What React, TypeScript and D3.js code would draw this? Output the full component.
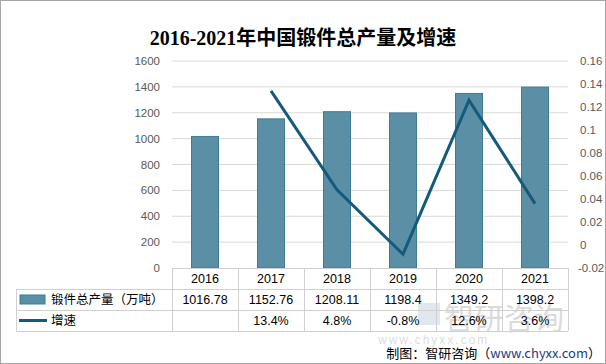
import * as d3 from 'd3';

const years = ['2016', '2017', '2018', '2019', '2020', '2021'];
const output = [1016.78, 1152.76, 1208.11, 1198.4, 1349.2, 1398.2];
const outputLabels = ['1016.78', '1152.76', '1208.11', '1198.4', '1349.2', '1398.2'];
const growth: (number | null)[] = [null, 0.134, 0.048, -0.008, 0.126, 0.036];
const growthLabels = ['', '13.4%', '4.8%', '-0.8%', '12.6%', '3.6%'];
const leftTicks = [0, 200, 400, 600, 800, 1000, 1200, 1400, 1600];
const rightTicks = [-0.02, 0, 0.02, 0.04, 0.06, 0.08, 0.1, 0.12, 0.14, 0.16];

const W = 606;
const H = 364;
const plot = { left: 172, right: 568, top: 61, bottom: 268 };
const rowH = 21;
const tableLeft = 16;

const cjk = '"Noto Sans CJK SC", "Microsoft YaHei", sans-serif';
const numFont = '"Liberation Sans", "Noto Sans CJK SC", sans-serif';

export default function App() {
  const x = d3.scaleBand().domain(years).range([plot.left, plot.right]);
  const yL = d3.scaleLinear().domain([0, 1600]).range([plot.bottom, plot.top]);
  const yR = d3.scaleLinear().domain([-0.02, 0.16]).range([plot.bottom, plot.top]);
  const barW = 27;
  const cx = (yr: string) => x(yr)! + x.bandwidth() / 2;

  const line = d3
    .line<[string, number | null]>()
    .defined((d) => d[1] !== null)
    .x((d) => cx(d[0]))
    .y((d) => yR(d[1] as number));

  const rows = [plot.bottom, plot.bottom + rowH, plot.bottom + rowH * 2, plot.bottom + rowH * 3];
  const border = '#d0d0d0';

  return (
    <svg width={W} height={H} style={{ position: 'absolute', left: 0, top: 0, background: '#fff' }}>
      <rect x={0.5} y={0.5} width={W - 1} height={H - 1} fill="#fff" stroke="#a6a6a6" />

      {/* title */}
      <text
        x={303}
        y={45}
        textAnchor="middle"
        fontSize={20}
        fontWeight="bold"
        fontFamily={'"Liberation Serif", "Noto Sans CJK SC", serif'}
        fill="#000"
      >
        2016-2021年中国锻件总产量及增速
      </text>

      {/* gridlines */}
      {leftTicks.slice(1).map((t) => (
        <line key={t} x1={plot.left} x2={plot.right} y1={yL(t)} y2={yL(t)} stroke="#d9d9d9" />
      ))}

      {/* left axis */}
      {leftTicks.map((t) => (
        <text key={t} x={160} y={yL(t) + 4} textAnchor="end" fontSize={11.5} fontFamily={numFont} fill="#595959">
          {t}
        </text>
      ))}

      {/* right axis */}
      {rightTicks.map((t) => (
        <text key={t} x={t < 0 ? 578 : 580} y={yR(t) + 4} textAnchor="start" fontSize={11.5} fontFamily={numFont} fill="#595959">
          {String(Math.round(t * 100) / 100)}
        </text>
      ))}

      {/* bars */}
      {years.map((yr, i) => (
        <rect
          key={yr}
          x={cx(yr) - barW / 2}
          y={yL(output[i])}
          width={barW}
          height={plot.bottom - yL(output[i])}
          fill="#5b8fa6"
          stroke="#3f7a96"
        />
      ))}

      {/* watermark */}
      <g opacity={0.3}>
        <rect x={418} y={303} width={22} height={22} fill="#9cb3c9" />
        <text x={444} y={329} fontSize={30} fontFamily={cjk} fill="#8c8c8c">
          智研咨询
        </text>
        <text x={378} y={344} fontSize={12} fontFamily={numFont} fill="#8c8c8c" letterSpacing={2}>
          www.chyxx.com
        </text>
      </g>

      {/* growth line */}
      <path d={line(years.map((yr, i) => [yr, growth[i]]))!} fill="none" stroke="#155a7a" strokeWidth={3} />

      {/* data table */}
      <line x1={plot.left} x2={plot.right} y1={rows[0] + 0.5} y2={rows[0] + 0.5} stroke={border} />
      {rows.slice(1).map((r) => (
        <line key={r} x1={tableLeft} x2={plot.right} y1={r + 0.5} y2={r + 0.5} stroke={border} />
      ))}
      <line x1={tableLeft + 0.5} x2={tableLeft + 0.5} y1={rows[1]} y2={rows[3]} stroke={border} />
      {years.map((yr) => (
        <line key={yr} x1={x(yr)! + 0.5} x2={x(yr)! + 0.5} y1={rows[0]} y2={rows[3]} stroke={border} />
      ))}
      <line x1={plot.right + 0.5} x2={plot.right + 0.5} y1={rows[0]} y2={rows[3]} stroke={border} />

      {years.map((yr, i) => (
        <g key={yr} fontSize={12.5} fontFamily={numFont} fill="#000" textAnchor="middle">
          <text x={cx(yr)} y={rows[0] + 15}>
            {yr}
          </text>
          <text x={cx(yr)} y={rows[1] + 15}>
            {outputLabels[i]}
          </text>
          <text x={cx(yr)} y={rows[2] + 15}>
            {growthLabels[i]}
          </text>
        </g>
      ))}

      {/* legend keys */}
      <rect x={20} y={rows[1] + 6} width={25} height={9} fill="#5b8fa6" stroke="#3f7a96" />
      <text x={51} y={rows[1] + 15} fontSize={12.5} fontFamily={cjk} fill="#000">
        锻件总产量（万吨）
      </text>
      <line x1={19} x2={47} y1={rows[2] + 10.5} y2={rows[2] + 10.5} stroke="#155a7a" strokeWidth={3} />
      <text x={51} y={rows[2] + 15} fontSize={12.5} fontFamily={cjk} fill="#000">
        增速
      </text>

      {/* source */}
      <text x={601} y={358} textAnchor="end" fontSize={13} fontFamily={cjk} fill="#000">
        制图：智研咨询（<tspan fill="#1f3d7a">www.chyxx.com</tspan>）
      </text>
    </svg>
  );
}
